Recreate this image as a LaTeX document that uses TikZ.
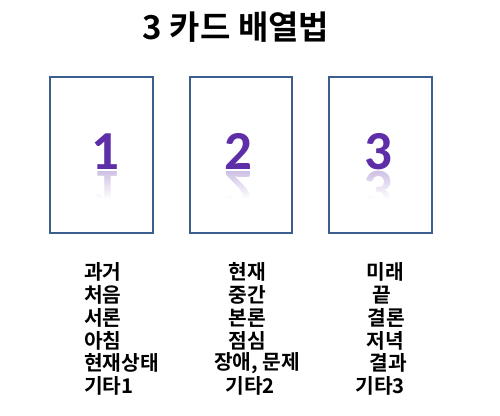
\documentclass[tikz,border=0pt]{standalone}
\usepackage{fontspec}
\newfontfamily\krb{Noto Sans CJK KR Bold}
\newfontfamily\digitfont{Carlito}[BoldFont={Carlito Bold}]
\usetikzlibrary{fadings}
\tikzfading[name=fadedown, top color=transparent!100, bottom color=transparent!0]
\definecolor{cardblue}{HTML}{3A5F8F}
\definecolor{digpurple}{HTML}{5E2DA8}
\tikzset{
  cardbox/.style={draw=cardblue, line width=1.4pt, fill=white},
  digit/.style={font=\digitfont\bfseries\fontsize{55}{55}\selectfont, text=digpurple, inner sep=0pt, anchor=base},
  refl/.style={digit, text opacity=0.3, transform shape},
  rowtext/.style={font=\krb\fontsize{20.3}{20.3}\selectfont, inner sep=0pt},
  titletext/.style={font=\krb\fontsize{33}{33}\selectfont, inner sep=0pt}
}
\begin{document}
\begin{tikzpicture}[x=1pt,y=-1pt]
\useasboundingbox[fill=white] (0,0) rectangle (500,415);
\node[titletext] (title) at (236,27) {3 카드 배열법};
% cards
\draw[cardbox] (50,77) rectangle (153,233) coordinate (c1);
\draw[cardbox] (190,77) rectangle (292,233) coordinate (c2);
\draw[cardbox] (329,77) rectangle (432,233) coordinate (c3);
% digits
\node[digit] (d1) at (105,169) {1};
\node[digit] (d2) at (238,169) {2};
\node[digit] (d3) at (378,169) {3};
\begin{scope}[shift={(105,171)}, yscale=-1]\node[refl] (r1) at (0,0) {1};\end{scope}
\begin{scope}[shift={(238,171)}, yscale=-1]\node[refl] (r2) at (0,0) {2};\end{scope}
\begin{scope}[shift={(378,171)}, yscale=-1]\node[refl] (r3) at (0,0) {3};\end{scope}
\fill[white, path fading=fadedown] (60,170) rectangle (145,199);
\fill[white, path fading=fadedown] (200,170) rectangle (285,199);
\fill[white, path fading=fadedown] (340,170) rectangle (425,199);
\fill[white] (60,198.5) rectangle (145,228);
\fill[white] (200,198.5) rectangle (285,228);
\fill[white] (340,198.5) rectangle (425,228);
% column 1
\node[rowtext, anchor=west] (a1) at (84,272) {과거};
\node[rowtext, anchor=west] (a2) at (84,295) {처음};
\node[rowtext, anchor=west] (a3) at (84,318) {서론};
\node[rowtext, anchor=west] (a4) at (84,340.5) {아침};
\node[rowtext, anchor=west] (a5) at (84,363) {현재상태};
\node[rowtext, anchor=west] (a6) at (84,386) {기타1};
% column 2
\node[rowtext] (b1) at (247,272) {현재};
\node[rowtext] (b2) at (247,295) {중간};
\node[rowtext] (b3) at (247,318) {본론};
\node[rowtext] (b4) at (247,340.5) {점심};
\node[rowtext] (b5) at (257,363) {장애, 문제};
\node[rowtext] (b6) at (250,386) {기타2};
% column 3
\node[rowtext] (e1) at (385,272) {미래};
\node[rowtext] (e2) at (382,295) {끝};
\node[rowtext] (e3) at (386,318) {결론};
\node[rowtext] (e4) at (385,340.5) {저녁};
\node[rowtext] (e5) at (388,363) {결과};
\node[rowtext] (e6) at (380,386) {기타3};
\end{tikzpicture}
\end{document}
